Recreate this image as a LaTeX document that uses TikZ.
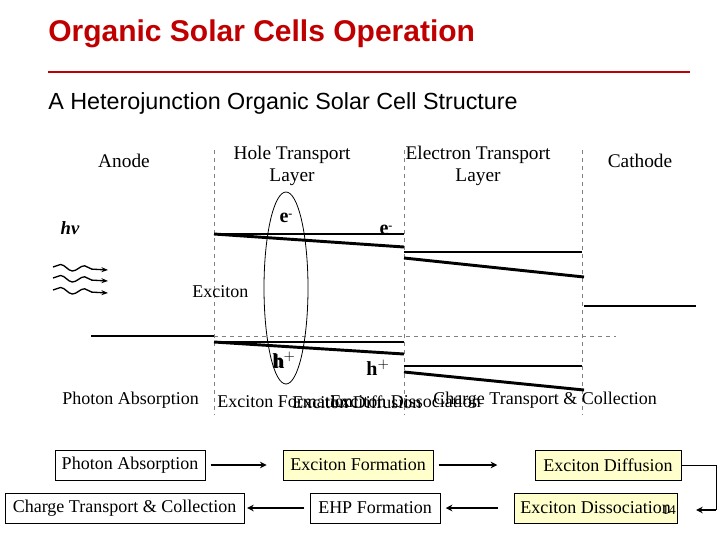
\documentclass[tikz,border=0pt]{standalone}
\usepackage{fontspec}
\setmainfont{Liberation Serif}
\newfontfamily\arial{Liberation Sans}
\usetikzlibrary{arrows.meta,decorations.pathmorphing}
\definecolor{titlered}{HTML}{C00000}
\definecolor{boxyellow}{HTML}{FFFFCC}
\begin{document}
\begin{tikzpicture}[x=0.75pt,y=-0.75pt,
  band/.style={line width=2.2pt},
  sep/.style={dashed,gray,line width=0.6pt},
  lbl/.style={font=\fontsize{13.5}{14}\selectfont,inner sep=0pt},
  lay/.style={font=\fontsize{14.5}{17}\selectfont,align=center,inner sep=0pt},
  chg/.style={font=\fontsize{15}{16}\selectfont\bfseries,inner sep=0pt},
  fbox/.style={draw,line width=0.6pt,minimum height=22.5pt,inner sep=1pt,font=\fontsize{13.5}{14}\selectfont},
  ybox/.style={fbox,fill=boxyellow},
  flow/.style={line width=1.4pt,-{Stealth[length=5pt,width=5pt]}}]
\useasboundingbox (0,0) rectangle (720,540);
\node[anchor=west,inner sep=0pt,text=titlered,font=\arial\bfseries\fontsize{22.5}{26}\selectfont] (title) at (48,34) {Organic Solar Cells Operation};
\draw[titlered,line width=2.2pt] (48,72) -- (690,72);
\node[anchor=west,inner sep=0pt,font=\arial\fontsize{17.5}{20}\selectfont] (sub) at (48,103) {A Heterojunction Organic Solar Cell Structure};
\node[lay] (anode) at (124,161) {Anode};
\node[lay] (htl) at (292,166) {Hole Transport\\Layer};
\node[lay] (etl) at (478,166) {Electron Transport\\Layer};
\node[lay] (cath) at (640,161) {Cathode};
\node[chg,font=\fontsize{14}{15}\selectfont\bfseries\itshape] (hv) at (70,228) {hv};
% wavy arrows
\foreach \yy in {267,278,290}{
  \draw[decorate,decoration={snake,amplitude=2.2pt,segment length=18pt,post length=5pt},-{Stealth[length=5pt]},line width=1pt] (53,\yy) -- (108,\yy+3);
}
% dashed separators
\draw[sep] (214,150) -- (214,415);
\draw[sep] (404,150) -- (404,415);
\draw[sep] (582,150) -- (582,415);
\draw[sep] (214,336) -- (616,336);
% bands
\draw[band] (91,336) -- (214,336);
\draw[band] (214,234) -- (404,234);
\draw[band] (214,234) -- (404,247);
\draw[band] (214,342) -- (404,342);
\draw[band] (214,342) -- (404,354);
\draw[band] (404,252) -- (582,252);
\draw[band] (404,258) -- (584,277);
\draw[band] (404,366) -- (582,366);
\draw[band] (404,372) -- (584,390);
\draw[band] (584,306) -- (696,306);
% charges and exciton
\draw[line width=0.6pt] (286,288) ellipse [x radius=22, y radius=96];
\node[chg] (e1) at (286,218) {e\raisebox{0.6ex}{\fontsize{9}{9}\selectfont -}};
\node[chg] (e2) at (386,230) {e\raisebox{0.6ex}{\fontsize{9}{9}\selectfont -}};
\node[chg] (h0) at (279,362) {h};
\node[chg] (h1) at (284,360) {h$^{+}$};
\node[chg] (h2) at (378,368) {h$^{+}$};
\node[lbl,anchor=west] (exc) at (192,292) {Exciton};
% stage labels
\node[lbl,anchor=west] (s1) at (62,400) {Photon Absorption};
\node[lbl,anchor=west] (s2) at (217,402) {Exciton Formation};
\node[lbl,anchor=west] (s3) at (292,402) {Exciton Diffusion};
\node[lbl,anchor=west] (s4) at (330,402) {Exciton Dissociation};
\node[lbl,anchor=west] (s5) at (433,400) {Charge Transport \& Collection};
% flow boxes
\node[fbox,minimum width=150*0.75pt] (pa) at (130,465) {Photon Absorption};
\node[ybox,minimum width=150*0.75pt] (ef) at (358,465) {Exciton Formation};
\node[ybox,minimum width=146*0.75pt] (ed) at (608,465) {Exciton Diffusion};
\node[fbox,minimum width=239*0.75pt] (ct) at (124.5,508) {Charge Transport \& Collection};
\node[fbox,minimum width=130*0.75pt] (ehp) at (375,508) {EHP Formation};
\node[ybox,minimum width=163*0.75pt] (eds) at (595.5,508) {Exciton Dissociation};
\node[lbl,font=\fontsize{10}{11}\selectfont] (pg) at (669,510) {14};
\coordinate (c1) at (716,465);
\coordinate (c2) at (716,510);
\draw[flow] ([xshift=4pt]pa.east) -- ([xshift=-12pt]ef.west);
\draw[flow] ([xshift=4pt]ef.east) -- ([xshift=-28pt]ed.west);
\draw[line width=0.6pt] (ed.east) -- (c1) -- (c2);
\draw[flow] (c2) -- ([xshift=14pt]eds.east |- c2);
\draw[flow] ([xshift=-12pt]eds.west) -- ([xshift=4pt]ehp.east);
\draw[flow] ([xshift=-4pt]ehp.west) -- ([xshift=2pt]ct.east);
\end{tikzpicture}
\end{document}
